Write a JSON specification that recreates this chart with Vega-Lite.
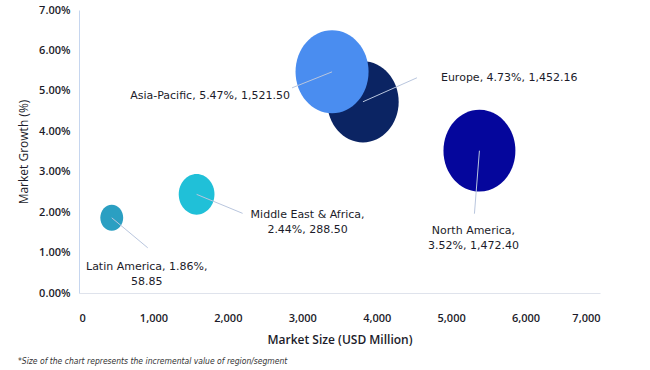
{
  "$schema": "https://vega.github.io/schema/vega-lite/v6.json",
  "autosize": "none",
  "width": 521,
  "height": 283,
  "padding": {"left": 79, "top": 10, "right": 50, "bottom": 77},
  "background": "white",
  "config": {"view": {"stroke": null}, "font": "Open Sans"},
  "title": {
    "text": "*Size of the chart represents the incremental value of region/segment",
    "orient": "bottom", "anchor": "start", "frame": "group", "dx": -61, "offset": 12,
    "font": "Liberation Sans Narrow, DejaVu Sans Condensed, sans-serif",
    "fontSize": 8.5, "fontStyle": "italic", "fontWeight": "normal", "color": "#333"
  },
  "data": {
    "values": [
      {"region": "Latin America", "size": 440, "growth": 1.86, "increment": 58.85, "label": "Latin America, 1.86%,\n58.85"},
      {"region": "Middle East & Africa", "size": 1580, "growth": 2.44, "increment": 288.5, "label": "Middle East & Africa,\n2.44%, 288.50"},
      {"region": "Europe", "size": 3815, "growth": 4.73, "increment": 1452.16, "label": "Europe, 4.73%, 1,452.16"},
      {"region": "North America", "size": 5380, "growth": 3.52, "increment": 1472.4, "label": "North America,\n3.52%, 1,472.40"},
      {"region": "Asia-Pacific", "size": 3400, "growth": 5.47, "increment": 1521.5, "label": "Asia-Pacific, 5.47%, 1,521.50"}
    ]
  },
  "encoding": {
    "x": {
      "field": "size", "type": "quantitative",
      "scale": {"domain": [0, 7000]},
      "axis": {
        "values": [0, 1000, 2000, 3000, 4000, 5000, 6000, 7000], "format": ",.0f",
        "title": "Market Size (USD Million)", "grid": false, "ticks": false, "tickSize": 0,
        "domainColor": "#dfe3ec", "labelPadding": 19, "labelFontSize": 11, "labelFontWeight": 600,
        "labelColor": "#1c1c2a", "labelFont": "Open Sans",
        "titleFont": "Open Sans", "titleFontSize": 12, "titleFontWeight": 600, "titleColor": "#1c1c2a",
        "titlePadding": 11
      }
    },
    "y": {
      "field": "growth", "type": "quantitative",
      "scale": {"domain": [0, 7]},
      "axis": {
        "values": [0, 1, 2, 3, 4, 5, 6, 7], "labelExpr": "format(datum.value, '.2f') + '%'",
        "title": "Market Growth (%)", "grid": false, "ticks": false, "tickSize": 0,
        "domainColor": "#c6d6ef", "labelPadding": 9, "labelFontSize": 11, "labelFontWeight": 600,
        "labelColor": "#1c1c2a", "labelFont": "Open Sans",
        "titleFont": "Open Sans", "titleFontSize": 12, "titleFontWeight": 500, "titleColor": "#1c1c2a",
        "titlePadding": 8
      }
    }
  },
  "layer": [
    {
      "mark": {
        "type": "point", "filled": true, "opacity": 1, "strokeWidth": 0,
        "shape": "M 0 -1 C 0.486 -1 0.88 -0.5523 0.88 0 C 0.88 0.5523 0.486 1 0 1 C -0.486 1 -0.88 0.5523 -0.88 0 C -0.88 -0.5523 -0.486 -1 0 -1 Z"
      },
      "encoding": {
        "size": {"field": "increment", "type": "quantitative", "legend": null,
                 "scale": {"type": "linear", "zero": false, "domain": [58.85, 1521.5], "range": [676, 6889]}},
        "color": {"field": "region", "type": "nominal", "legend": null,
                  "scale": {"domain": ["Latin America", "Middle East & Africa", "Europe", "North America", "Asia-Pacific"],
                            "range": ["#2b9fc2", "#20c0d8", "#0b2463", "#05069c", "#4a8df0"]}},
        "order": {"field": "increment", "sort": "ascending"}
      }
    },
    {
      "transform": [{"filter": "datum.region == 'Asia-Pacific'"}],
      "mark": {"type": "rule", "color": "#b9c6de", "strokeWidth": 1, "x2Offset": -40, "y2Offset": 16},
      "encoding": {"x2": {"field": "size"}, "y2": {"field": "growth"}}
    },
    {
      "transform": [{"filter": "datum.region == 'Europe'"}],
      "mark": {"type": "rule", "color": "#b9c6de", "strokeWidth": 1, "x2Offset": 54, "y2Offset": -24},
      "encoding": {"x2": {"field": "size"}, "y2": {"field": "growth"}}
    },
    {
      "transform": [{"filter": "datum.region == 'North America'"}],
      "mark": {"type": "rule", "color": "#b9c6de", "strokeWidth": 1, "x2Offset": -5, "y2Offset": 63},
      "encoding": {"x2": {"field": "size"}, "y2": {"field": "growth"}}
    },
    {
      "transform": [{"filter": "datum.region == 'Middle East & Africa'"}],
      "mark": {"type": "rule", "color": "#b9c6de", "strokeWidth": 1, "x2Offset": 46, "y2Offset": 19},
      "encoding": {"x2": {"field": "size"}, "y2": {"field": "growth"}}
    },
    {
      "transform": [{"filter": "datum.region == 'Latin America'"}],
      "mark": {"type": "rule", "color": "#b9c6de", "strokeWidth": 1, "x2Offset": 36, "y2Offset": 30},
      "encoding": {"x2": {"field": "size"}, "y2": {"field": "growth"}}
    },
    {
      "transform": [{"filter": "datum.region == 'Asia-Pacific'"}],
      "mark": {"type": "text", "align": "right", "baseline": "middle", "dx": -42, "dy": 24, "font": "DejaVu Sans", "fontSize": 11, "color": "#1c1c2a", "lineBreak": "\n", "lineHeight": 15},
      "encoding": {"text": {"field": "label"}}
    },
    {
      "transform": [{"filter": "datum.region == 'Europe'"}],
      "mark": {"type": "text", "align": "left", "baseline": "middle", "dx": 78, "dy": -24, "font": "DejaVu Sans", "fontSize": 11, "color": "#1c1c2a", "lineBreak": "\n", "lineHeight": 15},
      "encoding": {"text": {"field": "label"}}
    },
    {
      "transform": [{"filter": "datum.region == 'North America'"}],
      "mark": {"type": "text", "align": "center", "baseline": "middle", "dx": -6, "dy": 80, "font": "DejaVu Sans", "fontSize": 11, "color": "#1c1c2a", "lineBreak": "\n", "lineHeight": 15},
      "encoding": {"text": {"field": "label"}}
    },
    {
      "transform": [{"filter": "datum.region == 'Middle East & Africa'"}],
      "mark": {"type": "text", "align": "center", "baseline": "middle", "dx": 111, "dy": 21, "font": "DejaVu Sans", "fontSize": 11, "color": "#1c1c2a", "lineBreak": "\n", "lineHeight": 15},
      "encoding": {"text": {"field": "label"}}
    },
    {
      "transform": [{"filter": "datum.region == 'Latin America'"}],
      "mark": {"type": "text", "align": "center", "baseline": "middle", "dx": 35, "dy": 49, "font": "DejaVu Sans", "fontSize": 11, "color": "#1c1c2a", "lineBreak": "\n", "lineHeight": 15},
      "encoding": {"text": {"field": "label"}}
    }
  ]
}
